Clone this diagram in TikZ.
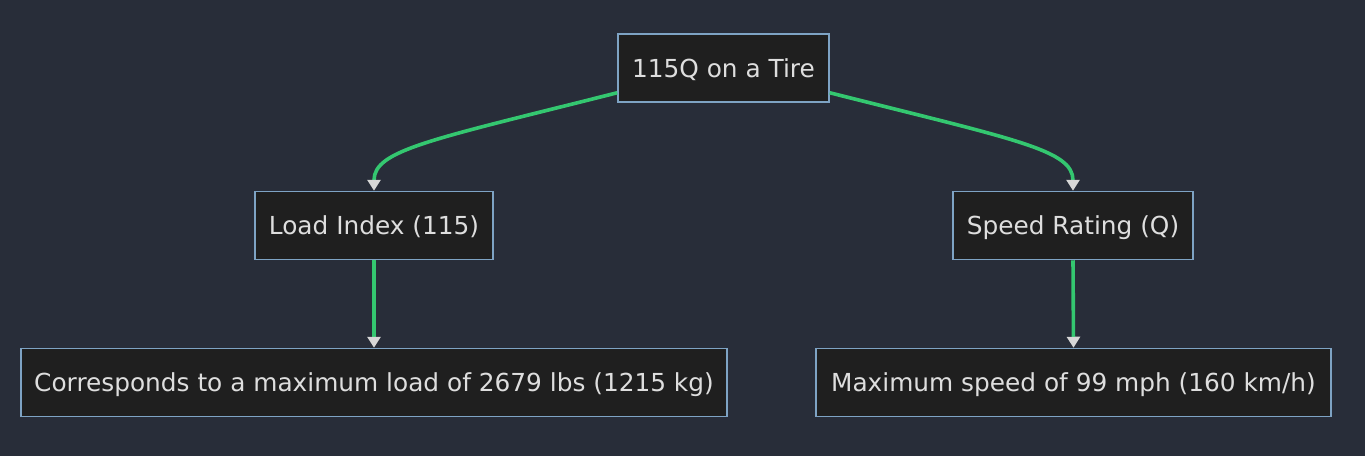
\documentclass[tikz,border=0pt]{standalone}
\usepackage{fontspec}
\setmainfont{DejaVu Sans}
\usetikzlibrary{arrows.meta}
\definecolor{bgc}{RGB}{40,45,57}
\definecolor{nodefill}{RGB}{31,31,31}
\definecolor{nodeborder}{RGB}{126,163,196}
\definecolor{txt}{RGB}{222,222,222}
\definecolor{edgec}{RGB}{52,199,112}
\definecolor{tipc}{RGB}{215,215,215}
\tikzset{
  box/.style={draw=nodeborder, fill=nodefill, line width=1.5pt, text=txt, inner sep=0pt,
    minimum height=68pt, text height=18.5pt, text depth=0pt, font=\fontsize{24.8}{29}\selectfont},
  link/.style={draw=edgec, line width=3.6pt, -{Triangle[width=13pt,length=11pt,color=tipc]}}
}
\begin{document}
\begin{tikzpicture}[x=1pt,y=-1pt]
\fill[bgc] (0,0) rectangle (1365,456);
\useasboundingbox (0,0) rectangle (1365,456);
\node[box, minimum width=211pt] (top) at (723.5,68) {115Q on a Tire};
\node[box, minimum width=238pt] (load) at (374,225.5) {Load Index (115)};
\node[box, minimum width=240pt] (speed) at (1073,225.5) {Speed Rating (Q)};
\node[box, minimum width=706pt] (corr) at (374,382.5) {Corresponds to a maximum load of 2679 lbs (1215 kg)};
\node[box, minimum width=515pt] (maxs) at (1073.5,382.5) {Maximum speed of 99 mph (160 km/h)};
\draw[link] ([yshift=10pt]top.south west) .. controls (430,140) and (374,150) .. (load.north);
\draw[link] ([yshift=10pt]top.south east) .. controls (1017,140) and (1073,150) .. (speed.north);
\draw[link] (load.south) -- (corr.north);
\draw[link] (speed.south) -- (maxs.north);
\end{tikzpicture}
\end{document}
